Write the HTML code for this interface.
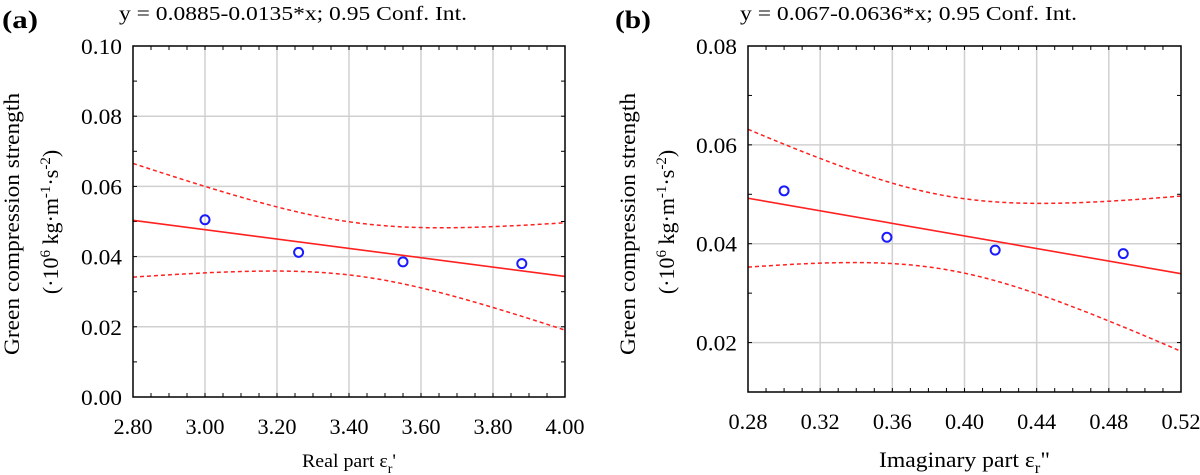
<!DOCTYPE html>
<html><head><meta charset="utf-8">
<style>
html,body{margin:0;padding:0;background:#fff;}
svg{display:block;font-family:"Liberation Serif",serif;}
</style></head>
<body>
<svg id="chart" width="1200" height="475" viewBox="0 0 1200 475" xmlns="http://www.w3.org/2000/svg"></svg>
<script>
// Panel (a) data
const aX = [3.00, 3.26, 3.55, 3.88];
const aY = [0.0505, 0.0412, 0.0385, 0.0380];
const aXTicks = [2.8, 3.0, 3.2, 3.4, 3.6, 3.8, 4.0];
const aXTickLabels = ["2.80","3.00","3.20","3.40","3.60","3.80","4.00"];
const aYTicks = [0, 0.02, 0.04, 0.06, 0.08, 0.10];
const aYTickLabels = ["0.00","0.02","0.04","0.06","0.08","0.10"];
// Panel (b) data
const bX = [0.300, 0.357, 0.417, 0.488];
const bY = [0.0507, 0.0413, 0.0387, 0.0380];
const bXTicks = [0.28, 0.32, 0.36, 0.40, 0.44, 0.48, 0.52];
const bXTickLabels = ["0.28","0.32","0.36","0.40","0.44","0.48","0.52"];
const bYTicks = [0.02, 0.04, 0.06, 0.08];
const bYTickLabels = ["0.02","0.04","0.06","0.08"];

const NS = "http://www.w3.org/2000/svg";
const svg = document.getElementById("chart");
function mk(tag, attrs, parent, text){
  const e = document.createElementNS(NS, tag);
  for (const k in attrs) e.setAttribute(k, attrs[k]);
  if (text !== undefined) e.textContent = text;
  (parent || svg).appendChild(e);
  return e;
}

function panel(cfg){
  const g = mk("g", {});
  
  
  const {L,R,T,B,xmin,xmax,ymin,ymax} = cfg;
  const sx = v => L + (v - xmin) / (xmax - xmin) * (R - L);
  const sy = v => B - (v - ymin) / (ymax - ymin) * (B - T);
  cfg.xTicks.forEach(v => {
    if (v > xmin + 1e-9 && v < xmax - 1e-9) {
      const l = mk("line", {x1:sx(v), x2:sx(v), y1:T, y2:B, stroke:"#d0d0d0", "stroke-width":1.5}, g);
      
      
    }
  });
  cfg.yTicks.forEach(v => {
    if (v > ymin + 1e-9 && v < ymax - 1e-9) {
      const l = mk("line", {x1:L, x2:R, y1:sy(v), y2:sy(v), stroke:"#d0d0d0", "stroke-width":1.5}, g);
      
      
    }
  });
  const xs = (cfg.xTicks[1] - cfg.xTicks[0]) / 4;
  for (let v = xmin; v <= xmax + 1e-9; v += xs) {
    mk("line", {x1:sx(v), x2:sx(v), y1:B, y2:B-4, stroke:"#000", "stroke-width":1}, g);
    mk("line", {x1:sx(v), x2:sx(v), y1:T, y2:T+4, stroke:"#000", "stroke-width":1}, g);
  }
  const ys = (cfg.yTicks[1] - cfg.yTicks[0]) / 2;
  for (let v = ymin; v <= ymax + 1e-9; v += ys) {
    mk("line", {x1:L, x2:L+4, y1:sy(v), y2:sy(v), stroke:"#000", "stroke-width":1}, g);
    mk("line", {x1:R, x2:R-4, y1:sy(v), y2:sy(v), stroke:"#000", "stroke-width":1}, g);
  }
  const X = cfg.xs, Y = cfg.ys, n = X.length;
  const mx = X.reduce((a,b)=>a+b,0)/n, my = Y.reduce((a,b)=>a+b,0)/n;
  let sxx=0, sxy=0;
  for (let i=0;i<n;i++){ sxx+=(X[i]-mx)**2; sxy+=(X[i]-mx)*(Y[i]-my); }
  const slope = sxy/sxx, icpt = my - slope*mx;
  let sse=0;
  for (let i=0;i<n;i++){ sse += (Y[i]-(icpt+slope*X[i]))**2; }
  const s = Math.sqrt(sse/(n-2)), t = 4.303;
  let up=[], lo=[];
  const steps = 60;
  for (let k=0;k<=steps;k++){
    const x = xmin + (xmax-xmin)*k/steps;
    const yh = icpt + slope*x;
    const h = t*s*Math.sqrt(1/n + (x-mx)**2/sxx);
    up.push(sx(x).toFixed(2)+","+sy(yh+h).toFixed(2));
    lo.push(sx(x).toFixed(2)+","+sy(yh-h).toFixed(2));
  }
  const cu = mk("polyline", {points:up.join(" "), fill:"none", stroke:"#ff2020", "stroke-width":1.5, "stroke-dasharray":"4,3"}, g);
  
  
  const cl = mk("polyline", {points:lo.join(" "), fill:"none", stroke:"#ff2020", "stroke-width":1.5, "stroke-dasharray":"4,3"}, g);
  
  
  const rl = mk("line", {x1:sx(xmin), y1:sy(icpt+slope*xmin), x2:sx(xmax), y2:sy(icpt+slope*xmax), stroke:"#ff2020", "stroke-width":1.6}, g);
  
  
  for (let i=0;i<n;i++){
    const c = mk("circle", {cx:sx(X[i]), cy:sy(Y[i]), r:4.5, fill:"none", stroke:"#1a1aff", "stroke-width":2}, g);
    
    
  }
  const fr = mk("rect", {x:L, y:T, width:R-L, height:B-T, fill:"none", stroke:"#000", "stroke-width":1.5}, g);
  
  
  cfg.xTicks.forEach((v,i) => {
    const tx = mk("text", {x:sx(v), y:B+37, "text-anchor":"middle", "font-size":22, textLength:39, lengthAdjust:"spacingAndGlyphs"}, g, cfg.xLabels[i]);
    
    
  });
  cfg.yTicks.forEach((v,i) => {
    const tx = mk("text", {x:L-52, y:sy(v)+8, "font-size":22, textLength:41, lengthAdjust:"spacingAndGlyphs"}, g, cfg.yLabels[i]);
    
    
  });
  const ti = mk("text", {x:cfg.titleX, y:20, "font-size":20, textLength:cfg.titleLen, lengthAdjust:"spacingAndGlyphs"}, g, cfg.title);
  
  
  const pl = mk("text", {x:cfg.panelX, y:28, "font-size":25, "font-weight":"bold", textLength:36, lengthAdjust:"spacingAndGlyphs"}, g, cfg.panelLabel);
  
  
  const xt = mk("text", {x:cfg.xtX, y:467, "font-size":cfg.xtSize, textLength:cfg.xtLen, lengthAdjust:"spacingAndGlyphs"}, g);
  
  
  mk("tspan", {}, xt, cfg.xtMain);
  mk("tspan", {dy:6, "font-size":cfg.xtSize*0.7}, xt, "r");
  mk("tspan", {dy:-6}, xt, cfg.xtSuffix);
  const yt = mk("text", {transform:`translate(${cfg.ytX},224) rotate(-90)`, "text-anchor":"middle", "font-size":22, textLength:262, lengthAdjust:"spacingAndGlyphs"}, g, "Green compression strength");
  
  
  const yu = mk("text", {transform:`translate(${cfg.ytX+39},222) rotate(-90)`, "text-anchor":"middle", "font-size":22}, g);
  
  
  mk("tspan", {}, yu, "(·10");
  mk("tspan", {dy:-8, "font-size":15}, yu, "6");
  mk("tspan", {dy:8}, yu, " kg·m");
  mk("tspan", {dy:-8, "font-size":15}, yu, "-1");
  mk("tspan", {dy:8}, yu, "·s");
  mk("tspan", {dy:-8, "font-size":15}, yu, "-2");
  mk("tspan", {dy:8}, yu, ")");
}

panel({name:"panel-a", L:133, R:565, T:46, B:397, xmin:2.8, xmax:4.0, ymin:0, ymax:0.10,
  xs:aX, ys:aY, xTicks:aXTicks, xLabels:aXTickLabels, yTicks:aYTicks, yLabels:aYTickLabels,
  title:"y = 0.0885-0.0135*x; 0.95 Conf. Int.", titleX:119, titleLen:348, panelLabel:"(a)", panelX:2,
  xtMain:"Real part ε", xtSuffix:"'", xtX:302, xtLen:94, xtSize:19, ytX:19});
panel({name:"panel-b", L:748, R:1181, T:46, B:392, xmin:0.28, xmax:0.52, ymin:0.01, ymax:0.08,
  xs:bX, ys:bY, xTicks:bXTicks, xLabels:bXTickLabels, yTicks:bYTicks, yLabels:bYTickLabels,
  title:"y = 0.067-0.0636*x; 0.95 Conf. Int.", titleX:740, titleLen:337, panelLabel:"(b)", panelX:615,
  xtMain:"Imaginary part ε", xtSuffix:"\"", xtX:879, xtLen:171, xtSize:22, ytX:635});
</script>
</body></html>
